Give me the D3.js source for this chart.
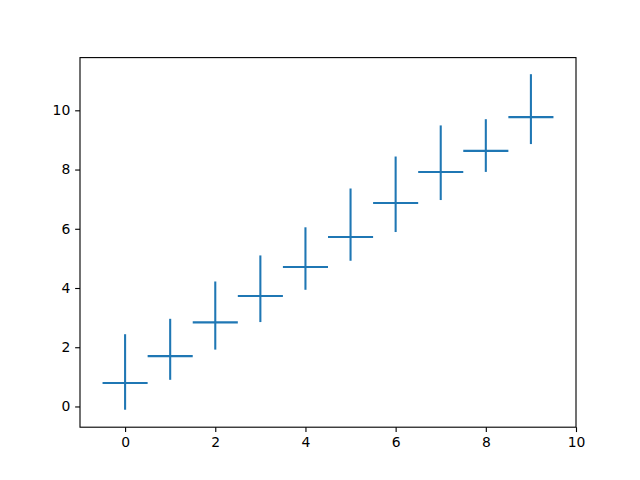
<!DOCTYPE html>
<html>
<head>
<meta charset="utf-8">
<script src="https://cdn.jsdelivr.net/npm/d3@7"></script>
<style>
html, body { margin: 0; padding: 0; background: #fff; }
svg { display: block; }
text { font-family: "DejaVu Sans", sans-serif; }
</style>
</head>
<body>
<svg id="chart" width="640" height="480"></svg>
<script>
const xValues = [0, 1, 2, 3, 4, 5, 6, 7, 8, 9];
const yValues = [0.79, 1.70, 2.84, 3.73, 4.71, 5.72, 6.87, 7.92, 8.63, 9.77];
const yErrLower = [0.90, 0.80, 0.92, 0.88, 0.77, 0.80, 0.98, 0.95, 0.71, 0.91];
const yErrUpper = [1.65, 1.26, 1.38, 1.37, 1.34, 1.64, 1.57, 1.57, 1.07, 1.45];
const xErr = [0.5, 0.5, 0.5, 0.5, 0.5, 0.5, 0.5, 0.5, 0.5, 0.5];
const xLimits = [-1, 10];
const yLimits = [-0.70, 11.78];
const xTicks = [0, 2, 4, 6, 8, 10];
const yTicks = [0, 2, 4, 6, 8, 10];

(function () {
const data = xValues.map((x, i) => ({
  x, y: yValues[i], lo: yErrLower[i], hi: yErrUpper[i], xe: xErr[i]
}));

const W = 640, H = 480;
const mLeft = 80, mRight = 576, mTop = 57.6, mBottom = 427.2;
const svg = d3.select("#chart");
svg.append("rect").attr("width", W).attr("height", H).attr("fill", "#fff");

const x = d3.scaleLinear().domain(xLimits).range([mLeft, mRight]);
const y = d3.scaleLinear().domain(yLimits).range([mBottom, mTop]);

const color = "#1f77b4";
const g = svg.append("g");
g.selectAll("line.v").data(data).join("line").attr("class", "v")
  .attr("x1", d => x(d.x)).attr("x2", d => x(d.x))
  .attr("y1", d => y(d.y - d.lo)).attr("y2", d => y(d.y + d.hi))
  .attr("stroke", color).attr("stroke-width", 2.08);
g.selectAll("line.h").data(data).join("line").attr("class", "h")
  .attr("x1", d => x(d.x - d.xe)).attr("x2", d => x(d.x + d.xe))
  .attr("y1", d => y(d.y)).attr("y2", d => y(d.y))
  .attr("stroke", color).attr("stroke-width", 2.08);

const xAxis = d3.axisBottom(x).tickValues(xTicks).tickSize(4.86).tickPadding(4.86).tickFormat(d3.format("d"));
const yAxis = d3.axisLeft(y).tickValues(yTicks).tickSize(4.86).tickPadding(4.86).tickFormat(d3.format("d"));

const gx = svg.append("g").attr("transform", `translate(0,${mBottom})`).call(xAxis);
const gy = svg.append("g").attr("transform", `translate(${mLeft},0)`).call(yAxis);
[gx, gy].forEach(a => {
  a.select(".domain").remove();
  a.selectAll(".tick line").attr("stroke", "#000").attr("stroke-width", 1.11);
  a.selectAll(".tick text").attr("fill", "#000").style("font-size", "13.9px").style("font-family", "DejaVu Sans");
});

svg.append("rect").attr("x", mLeft).attr("y", mTop)
  .attr("width", mRight - mLeft).attr("height", mBottom - mTop)
  .attr("fill", "none").attr("stroke", "#000").attr("stroke-width", 1.11);
})();
</script>
</body>
</html>
